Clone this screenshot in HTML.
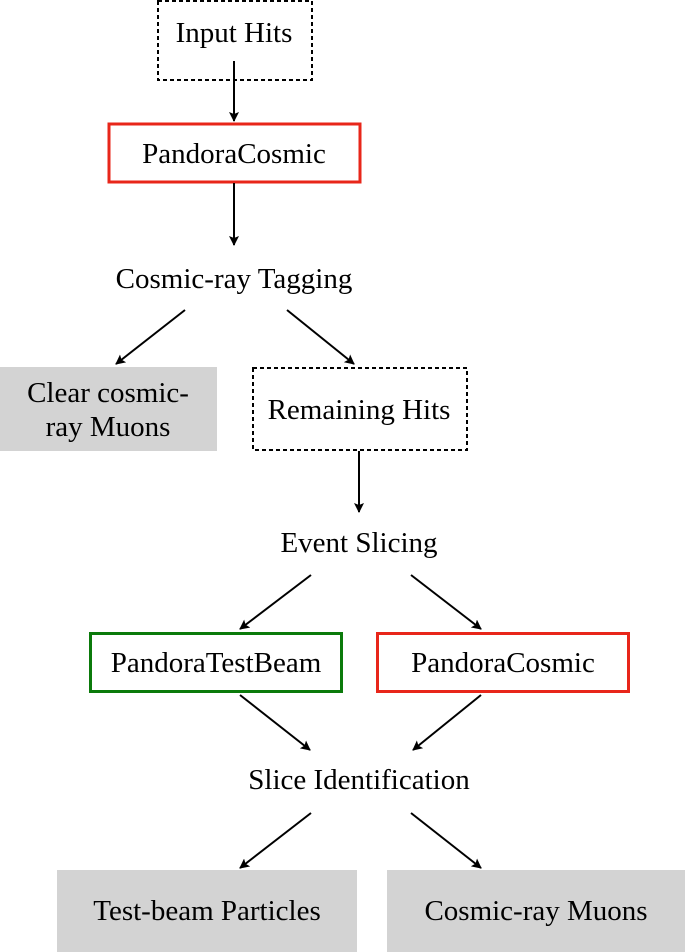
<!DOCTYPE html>
<html><head><style>
body{margin:0;background:#fff;}
svg{display:block}
text{font-family:"Liberation Serif",serif;font-size:29px;fill:#000;text-anchor:middle;dominant-baseline:central}
</style></head><body>
<svg width="685" height="952" viewBox="0 0 685 952" xmlns="http://www.w3.org/2000/svg">
<defs><marker id="a" markerWidth="10" markerHeight="10" refX="9" refY="5" orient="auto" markerUnits="userSpaceOnUse"><path d="M0,0 L10,5 L0,10 L2,5 Z" fill="#000"/></marker></defs>
<rect x="158" y="1" width="154" height="79" fill="none" stroke="#000" stroke-width="2" stroke-dasharray="4,3"/>
<text x="234" y="33">Input Hits</text>
<line x1="234" y1="61" x2="234" y2="121" stroke="#000" stroke-width="2" marker-end="url(#a)"/>
<rect x="109" y="124" width="251" height="58" fill="none" stroke="#e8261a" stroke-width="3"/>
<text x="234" y="154">PandoraCosmic</text>
<line x1="234" y1="183" x2="234" y2="245" stroke="#000" stroke-width="2" marker-end="url(#a)"/>
<text x="234" y="279">Cosmic-ray Tagging</text>
<line x1="185" y1="310" x2="116" y2="364" stroke="#000" stroke-width="2" marker-end="url(#a)"/>
<line x1="287" y1="310" x2="354" y2="364" stroke="#000" stroke-width="2" marker-end="url(#a)"/>
<rect x="0" y="367" width="217" height="84" fill="#d3d3d3"/>
<text x="108" y="393">Clear cosmic-</text>
<text x="108" y="427">ray Muons</text>
<rect x="253" y="368" width="214" height="82" fill="none" stroke="#000" stroke-width="2" stroke-dasharray="4,3"/>
<text x="359" y="410">Remaining Hits</text>
<line x1="359" y1="451" x2="359" y2="512" stroke="#000" stroke-width="2" marker-end="url(#a)"/>
<text x="359" y="543">Event Slicing</text>
<line x1="311" y1="575" x2="240" y2="629" stroke="#000" stroke-width="2" marker-end="url(#a)"/>
<line x1="411" y1="575" x2="481" y2="629" stroke="#000" stroke-width="2" marker-end="url(#a)"/>
<rect x="90.5" y="633.5" width="251" height="58" fill="none" stroke="#0b7a0b" stroke-width="3"/>
<text x="216" y="663">PandoraTestBeam</text>
<rect x="377.5" y="633.5" width="251" height="58" fill="none" stroke="#e8261a" stroke-width="3"/>
<text x="503" y="663">PandoraCosmic</text>
<line x1="240" y1="695" x2="310" y2="750" stroke="#000" stroke-width="2" marker-end="url(#a)"/>
<line x1="481" y1="695" x2="413" y2="750" stroke="#000" stroke-width="2" marker-end="url(#a)"/>
<text x="359" y="780">Slice Identification</text>
<line x1="311" y1="813" x2="240" y2="868" stroke="#000" stroke-width="2" marker-end="url(#a)"/>
<line x1="411" y1="813" x2="481" y2="868" stroke="#000" stroke-width="2" marker-end="url(#a)"/>
<rect x="57" y="870" width="300" height="82" fill="#d3d3d3"/>
<text x="207" y="911">Test-beam Particles</text>
<rect x="387" y="870" width="298" height="82" fill="#d3d3d3"/>
<text x="536" y="911">Cosmic-ray Muons</text>
</svg>
</body></html>
